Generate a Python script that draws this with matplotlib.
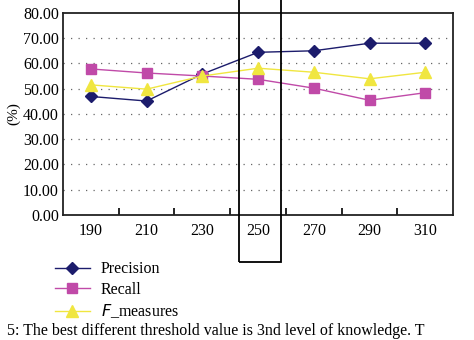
import matplotlib
matplotlib.use("Agg")
import matplotlib.pyplot as plt
from matplotlib.patches import Rectangle
from matplotlib.lines import Line2D

plt.rcParams['font.family'] = ['Liberation Serif', 'DejaVu Serif']

thresholds = ['190', '210', '230', '250', '270', '290', '310']
precision = [46.9, 45.1, 55.8, 64.4, 65.0, 68.0, 68.0]
recall = [57.8, 56.2, 55.0, 53.7, 50.2, 45.4, 48.4]
f_measures = [51.5, 49.8, 55.0, 58.1, 56.5, 53.9, 56.5]
yticks = [0, 10, 20, 30, 40, 50, 60, 70, 80]

fig = plt.figure(figsize=(4.74, 3.40), dpi=100)
ax = fig.add_axes([0.133, 0.368, 0.823, 0.594])

x = list(range(len(thresholds)))
ax.plot(x, precision, color='#1c1c6c', lw=1.0, marker='D', ms=6,
        label='Precision', zorder=3)
ax.plot(x, recall, color='#c04aa8', lw=1.0, marker='s', ms=6.5,
        label='Recall', zorder=3)
ax.plot(x, f_measures, color='#f0e640', lw=1.0, marker='^', ms=8,
        label='$\\mathit{F}$_measures', zorder=3)

ax.set_xlim(-0.5, len(thresholds) - 0.5)
ax.set_ylim(0, 80)
ax.set_yticks(yticks)
ax.set_yticklabels([f'{v:.2f}' for v in yticks], fontsize=11.5)
ax.set_xticks(x)
ax.set_xticklabels(thresholds, fontsize=11.5)
ax.set_xticks([i + 0.5 for i in x[:-1]], minor=True)
ax.tick_params(axis='x', which='major', length=0, pad=6)
ax.tick_params(axis='x', which='minor', direction='in', length=5, width=1.2)
ax.tick_params(axis='y', length=0, pad=3)
for v in yticks[1:-1]:
    ax.axhline(v, color='#666666', lw=0.9, ls=(0, (1, 5)), zorder=1)
for s in ax.spines.values():
    s.set_linewidth(1.3)
    s.set_color('#222222')
ax.set_ylabel('(%)', fontsize=11, labelpad=2)

handles = [
    Line2D([], [], color='#1c1c6c', lw=1.0, marker='D', ms=6),
    Line2D([], [], color='#c04aa8', lw=1.0, marker='s', ms=6.5),
    Line2D([], [], color='#f0e640', lw=1.0, marker='^', ms=8),
]
fig.legend(handles, ['Precision', 'Recall', '$\\mathit{F}$_measures'],
           loc='upper left', bbox_to_anchor=(0.115, 0.232), frameon=False,
           fontsize=11.5, handlelength=2.2, handletextpad=0.7, labelspacing=0.3,
           borderaxespad=0, borderpad=0)

fig.add_artist(Rectangle((0.504, 0.229), 0.089, 0.775, transform=fig.transFigure,
                         fill=False, ec='black', lw=1.3, clip_on=False))

fig.text(0.015, 0.004, '5: The best different threshold value is 3nd level of knowledge. T',
         fontsize=11.5, ha='left', va='bottom')

fig.savefig('out.png', dpi=100)
